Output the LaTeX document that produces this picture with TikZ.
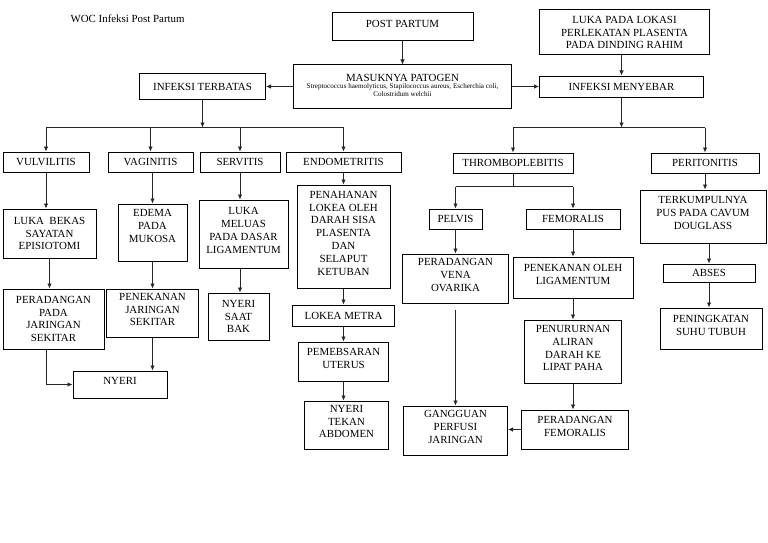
\documentclass[tikz,border=0pt]{standalone}
\usepackage{fontspec}
\setmainfont{Liberation Serif}
\usetikzlibrary{arrows.meta, positioning}
\newcommand{\smalltxt}{\fontsize{7.1}{7.6}\selectfont}
\tikzset{
    box/.style={rectangle, draw=black, line width=1pt, inner sep=1pt, align=center, font=\fontsize{10.9}{12.8}\selectfont},
    boxup/.style={box, text depth=7pt},
    arrow/.style={line width=0.8pt, draw=black!85, -{Latex[length=5pt,width=4.5pt]}},
    link/.style={line width=0.8pt, draw=black!85}
}

\begin{document}
\begin{tikzpicture}[x=1pt, y=-1pt]
        \useasboundingbox (0,0) rectangle (768,543);
        % Title
        \node[anchor=west, font=\fontsize{10.9}{12.8}\selectfont] (title) at (67,19) {WOC Infeksi Post Partum};

        % Nodes (top)
        \node[boxup, minimum width=141pt, minimum height=28pt] (post) at (402.5,27) {POST PARTUM};
        \node[box, below=23pt of post, minimum width=218pt, minimum height=43pt] (masuk) {MASUKNYA PATOGEN\\[-6pt]{\smalltxt\begin{tabular}[t]{@{}c@{}}Streptococcus haemolyticus, Stapilococcus aureus, Escherchia coli,\\Colostridum welchii\end{tabular}}};
        \node[box, left=27pt of masuk, minimum width=126pt, minimum height=26pt] (terbatas) {INFEKSI TERBATAS};
        \node[box, right=27pt of masuk, minimum width=164pt, minimum height=21pt] (menyebar) {INFEKSI MENYEBAR};
        \node[box, above=20pt of menyebar, xshift=3pt, minimum width=170pt, minimum height=45pt] (lokasi) {LUKA PADA LOKASI\\PERLEKATAN PLASENTA\\PADA DINDING RAHIM};

        % Nodes (infeksi terbatas)
        \node[box, minimum width=86pt, minimum height=20pt] (vulv) at (46,162) {VULVILITIS};
        \node[box, right=18pt of vulv, minimum width=85pt, minimum height=20pt] (vagi) {VAGINITIS};
        \node[box, right=6pt of vagi, minimum width=80pt, minimum height=20pt] (serv) {SERVITIS};
        \node[box, right=5pt of serv, minimum width=115pt, minimum height=20pt] (endo) {ENDOMETRITIS};
        \node[box, below=36pt of vulv, xshift=3.5pt, minimum width=93pt, minimum height=49pt] (lukabekas) {LUKA\ \ BEKAS\\SAYATAN\\EPISIOTOMI};
        \node[box, below=30pt of lukabekas, xshift=4pt, minimum width=101pt, minimum height=60pt] (peradpada) {PERADANGAN\\PADA\\JARINGAN\\SEKITAR};
        \node[box, below=31pt of vagi, xshift=2pt, text depth=13pt, minimum width=69pt, minimum height=57pt] (edema) {EDEMA\\PADA\\MUKOSA};
        \node[boxup, below=27pt of edema, minimum width=92pt, minimum height=48pt] (penekjar) {PENEKANAN\\JARINGAN\\SEKITAR};
        \node[boxup, below=33pt of penekjar, xshift=-32.5pt, minimum width=94pt, minimum height=27pt] (nyeri) {NYERI};
        \node[boxup, below=27pt of serv, xshift=3.5pt, minimum width=89pt, minimum height=68pt] (lukameluas) {LUKA\\MELUAS\\PADA DASAR\\LIGAMENTUM};
        \node[box, below=24pt of lukameluas, xshift=-5pt, minimum width=61pt, minimum height=47pt] (nyerisaat) {NYERI\\SAAT\\BAK};
        \node[boxup, below=12pt of endo, minimum width=93pt, minimum height=103pt] (penahanan) {PENAHANAN\\LOKEA OLEH\\DARAH SISA\\PLASENTA\\DAN\\SELAPUT\\KETUBAN};
        \node[box, below=16pt of penahanan, minimum width=102pt, minimum height=21pt] (lokea) {LOKEA METRA};
        \node[boxup, below=15pt of lokea, minimum width=90pt, minimum height=39pt] (pembesaran) {PEMEBSARAN\\UTERUS};
        \node[boxup, below=19pt of pembesaran, xshift=3pt, minimum width=84pt, minimum height=48pt] (nyeritekan) {NYERI\\TEKAN\\ABDOMEN};

        % Nodes (infeksi menyebar)
        \node[box, minimum width=120pt, minimum height=20pt] (thrombo) at (513,163) {THROMBOPLEBITIS};
        \node[box, minimum width=108pt, minimum height=20pt] (perito) at (705,163) {PERITONITIS};
        \node[box, below=35pt of thrombo, xshift=-57.5pt, minimum width=53pt, minimum height=20pt] (pelvis) {PELVIS};
        \node[box, below=35pt of thrombo, xshift=60pt, minimum width=94pt, minimum height=20pt] (femoralis) {FEMORALIS};
        \node[boxup, below=24pt of pelvis, minimum width=106pt, minimum height=49pt] (vena) {PERADANGAN\\VENA\\OVARIKA};
        \node[boxup, below=102pt of vena, minimum width=104pt, minimum height=49pt] (gangguan) {GANGGUAN\\PERFUSI\\JARINGAN};
        \node[boxup, below=27pt of femoralis, minimum width=120pt, minimum height=41pt] (penekoleh) {PENEKANAN OLEH\\LIGAMENTUM};
        \node[boxup, below=21pt of penekoleh, minimum width=97pt, minimum height=63pt] (penurunan) {PENURURNAN\\ALIRAN\\DARAH KE\\LIPAT PAHA};
        \node[boxup, below=26pt of penurunan, xshift=2pt, minimum width=107pt, minimum height=39pt] (peradfem) {PERADANGAN\\FEMORALIS};
        \node[boxup, below=16pt of perito, xshift=-2pt, minimum width=126pt, minimum height=53pt] (terkumpul) {TERKUMPULNYA\\PUS PADA CAVUM\\DOUGLASS};
        \node[box, below=20pt of terkumpul, xshift=6pt, minimum width=92pt, minimum height=18pt] (abses) {ABSES};
        \node[boxup, below=25pt of abses, xshift=2pt, minimum width=102pt, minimum height=41pt] (suhu) {PENINGKATAN\\SUHU TUBUH};

        % Branch points
        \coordinate (splitL) at (205,127.5);
        \coordinate (splitR) at (622,127.5);
        \coordinate (splitT) at (513,186.5);

        % Arrows (top)
        \draw[arrow] (post) -- (masuk);
        \draw[arrow] (masuk.east |- menyebar) -- (menyebar);
        \draw[arrow] (masuk.west |- terbatas) -- (terbatas);
        \draw[arrow] (lokasi.south -| menyebar) -- (menyebar);

        % Arrows (infeksi terbatas)
        \draw[arrow] (terbatas) -- (terbatas |- splitL);
        \draw[link] (vulv |- splitL) -- (endo |- splitL);
        \draw[arrow] (vulv |- splitL) -- (vulv);
        \draw[arrow] (vagi |- splitL) -- (vagi);
        \draw[arrow] (serv |- splitL) -- (serv);
        \draw[arrow] (endo |- splitL) -- (endo);
        \draw[arrow] (vulv) -- (vulv |- lukabekas.north);
        \draw[arrow] (lukabekas) -- (lukabekas |- peradpada.north);
        \draw[arrow] (vulv |- peradpada.south) |- (nyeri);
        \draw[arrow] (edema |- vagi.south) -- (edema);
        \draw[arrow] (edema) -- (penekjar);
        \draw[arrow] (penekjar) -- (penekjar |- nyeri.north);
        \draw[arrow] (serv) -- (serv |- lukameluas.north);
        \draw[arrow] (serv |- lukameluas.south) -- (serv |- nyerisaat.north);
        \draw[arrow] (endo) -- (penahanan);
        \draw[arrow] (penahanan) -- (lokea);
        \draw[arrow] (lokea) -- (pembesaran);
        \draw[arrow] (pembesaran) -- (pembesaran |- nyeritekan.north);

        % Arrows (infeksi menyebar)
        \draw[arrow] (menyebar) -- (menyebar |- splitR);
        \draw[link] (thrombo |- splitR) -- (perito |- splitR);
        \draw[arrow] (thrombo |- splitR) -- (thrombo);
        \draw[arrow] (perito |- splitR) -- (perito);
        \draw[link] (thrombo) -- (splitT);
        \draw[link] (pelvis |- splitT) -- (femoralis |- splitT);
        \draw[arrow] (pelvis |- splitT) -- (pelvis);
        \draw[arrow] (femoralis |- splitT) -- (femoralis);
        \draw[arrow] (pelvis) -- (vena);
        \draw[arrow, shorten <=6pt] (vena) -- (gangguan);
        \draw[arrow] (femoralis) -- (penekoleh);
        \draw[arrow] (penekoleh) -- (penurunan);
        \draw[arrow] (penurunan) -- (penurunan |- peradfem.north);
        \draw[arrow] (peradfem.west) -- (peradfem.west -| gangguan.east);
        \draw[arrow] (perito) -- (perito |- terkumpul.north);
        \draw[arrow] (abses |- terkumpul.south) -- (abses);
        \draw[arrow] (abses) -- (abses |- suhu.north);
    \end{tikzpicture}
\end{document}
